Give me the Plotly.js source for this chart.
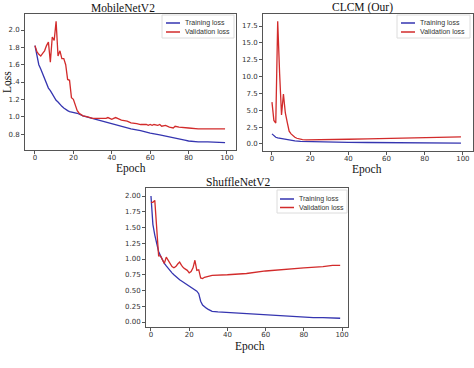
<!DOCTYPE html>
<html><head><meta charset="utf-8">
<script src="https://cdn.plot.ly/plotly-3.0.1.min.js"></script>
<style>html,body{margin:0;padding:0;background:#fff}#chart{width:474px;height:368px}</style>
</head><body><div id="chart"></div>
<script>
// ---- MobileNetV2 ----
const mobTrainEpoch = [0,1,2,3,4,5,6,7,8,9,10,11,12,13,14,15,16,17,18,19,20,22,25,30,35,40,45,50,55,60,65,70,75,78,80,85,90,95,99];
const mobTrainLoss  = [1.82,1.72,1.60,1.55,1.49,1.43,1.38,1.33,1.30,1.26,1.22,1.19,1.17,1.14,1.12,1.10,1.08,1.07,1.06,1.055,1.05,1.04,1.01,0.98,0.95,0.92,0.89,0.86,0.84,0.81,0.79,0.77,0.75,0.73,0.72,0.71,0.71,0.70,0.70];
const mobValEpoch = [0,1,2,3,4,5,6,7,8,9,10,11,12,13,14,15,16,17,18,19,20,21,22,23,24,25,27,30,33,35,37,38,39,40,41,42,43,45,48,50,53,55,58,59,60,61,62,64,65,66,68,70,72,73,75,78,80,85,90,95,99];
const mobValLoss  = [1.82,1.75,1.72,1.70,1.73,1.76,1.82,1.86,1.63,1.92,1.88,2.10,1.70,1.76,1.67,1.67,1.60,1.43,1.42,1.22,1.20,1.12,1.07,1.04,1.02,1.01,1.00,0.98,0.98,0.98,0.98,0.99,0.98,0.97,0.98,0.99,0.98,0.96,0.95,0.93,0.92,0.91,0.91,0.90,0.91,0.90,0.91,0.90,0.91,0.89,0.90,0.88,0.87,0.89,0.88,0.87,0.87,0.86,0.86,0.86,0.86];
// ---- CLCM (Our) ----
const clcmTrainEpoch = [0,1,2,3,4,5,6,7,8,9,10,12,15,20,25,30,40,50,60,70,80,90,99];
const clcmTrainLoss  = [1.5,1.2,1.0,0.9,0.85,0.8,0.75,0.7,0.6,0.55,0.5,0.45,0.4,0.35,0.3,0.28,0.25,0.22,0.2,0.18,0.16,0.15,0.13];
const clcmValEpoch = [0,1,2,3,4,5,6,7,8,9,10,11,12,13,14,15,16,18,20,25,30,40,50,60,70,80,90,99];
const clcmValLoss  = [6.2,3.5,3.1,18.2,10.5,4.3,7.4,4.6,3.2,1.9,1.5,1.2,1.0,0.85,0.75,0.7,0.65,0.62,0.62,0.63,0.65,0.7,0.75,0.8,0.85,0.9,0.95,1.05];
// ---- ShuffleNetV2 ----
const shufTrainEpoch = [0,1,2,3,4,5,6,7,8,9,10,11,12,13,14,15,16,17,18,19,20,21,22,23,24,25,26,27,28,29,30,31,32,35,40,45,50,55,60,65,70,75,80,85,90,95,99];
const shufTrainLoss  = [2.0,1.55,1.38,1.25,1.12,1.05,0.98,0.93,0.89,0.85,0.81,0.78,0.75,0.72,0.70,0.67,0.65,0.63,0.61,0.59,0.57,0.55,0.53,0.51,0.49,0.45,0.33,0.27,0.24,0.22,0.20,0.18,0.17,0.16,0.15,0.14,0.13,0.12,0.11,0.10,0.09,0.09,0.08,0.07,0.07,0.06,0.06];
const shufValEpoch = [0,1,2,3,4,5,6,7,8,9,10,11,12,13,14,15,16,17,18,19,20,21,22,23,24,25,26,27,28,30,32,40,50,60,70,80,90,95,99];
const shufValLoss  = [1.90,1.90,1.93,1.45,1.05,1.05,0.98,0.93,1.03,0.98,0.92,0.88,0.86,0.88,0.92,0.95,0.90,0.86,0.84,0.82,0.78,0.80,0.86,0.98,0.82,0.83,0.70,0.69,0.71,0.73,0.74,0.75,0.77,0.81,0.84,0.86,0.88,0.90,0.90];

const legendNames = ['Training loss','Validation loss'];
const blue = '#3535b0', red = '#d22b2b';
const W = 474, H = 368;
const fx = p => p / W, fy = p => 1 - p / H;

function tr(x, y, xa, ya, name, color) {
  return {x: x, y: y, xaxis: xa, yaxis: ya, name: name, type: 'scatter', mode: 'lines',
    line: {color: color, width: 1.3}, showlegend: false};
}
const data = [
  tr(mobTrainEpoch, mobTrainLoss, 'x', 'y', legendNames[0], blue),
  tr(mobValEpoch, mobValLoss, 'x', 'y', legendNames[1], red),
  tr(clcmTrainEpoch, clcmTrainLoss, 'x2', 'y2', legendNames[0], blue),
  tr(clcmValEpoch, clcmValLoss, 'x2', 'y2', legendNames[1], red),
  tr(shufTrainEpoch, shufTrainLoss, 'x3', 'y3', legendNames[0], blue),
  tr(shufValEpoch, shufValLoss, 'x3', 'y3', legendNames[1], red),
];

const tickFont = {family: 'DejaVu Sans', size: 7, color: '#333'};
function ax(domain, range, dtick, fmt, anchor, isX) {
  const a = {domain: domain, range: range, dtick: dtick, tick0: 0, tickformat: fmt, anchor: anchor,
    showgrid: false, zeroline: false, showline: true, mirror: true, linecolor: '#555', linewidth: 1,
    ticks: 'outside', ticklen: 3, tickcolor: '#555', tickfont: tickFont};
  if (isX) a.ticklabelstandoff = -2;
  return a;
}
const serif = {family: 'Liberation Serif', size: 11.5, color: '#111'};
function ann(text, x, y, extra) {
  return Object.assign({text: text, x: fx(x), y: fy(y), xref: 'paper', yref: 'paper', showarrow: false,
    font: serif, xanchor: 'center', yanchor: 'middle'}, extra || {});
}

// manual compact legends (box left/top/right/bottom, line start x, item y's)
const shapes = [], anns = [];
function legendBox(l, t, r, b, lx, ys) {
  shapes.push({type: 'rect', xref: 'paper', yref: 'paper', x0: fx(l), x1: fx(r), y0: fy(b), y1: fy(t),
    line: {color: '#dcdcdc', width: 1}, fillcolor: 'rgba(255,255,255,0.9)'});
  [blue, red].forEach((c, i) => {
    shapes.push({type: 'line', xref: 'paper', yref: 'paper', x0: fx(lx), x1: fx(lx + 14), y0: fy(ys[i]), y1: fy(ys[i]),
      line: {color: c, width: 1.5}});
    anns.push({text: legendNames[i], x: fx(lx + 17), y: fy(ys[i]), xref: 'paper', yref: 'paper', showarrow: false,
      xanchor: 'left', yanchor: 'middle', font: {family: 'Liberation Sans', size: 7, color: '#333'}});
  });
}
legendBox(162, 15, 234, 38, 166, [23, 32]);
legendBox(397, 15, 470, 38, 401, [23, 32]);
legendBox(277, 190, 347, 213, 280, [199, 207.5]);

const layout = {
  width: W, height: H, margin: {l: 0, r: 0, t: 0, b: 0}, paper_bgcolor: '#fff', plot_bgcolor: '#fff',
  showlegend: false,
  xaxis: ax([fx(25), fx(236)], [-5.2, 104.7], 20, 'd', 'y', true),
  yaxis: ax([fy(150), fy(14)], [0.616, 2.185], 0.2, '.1f', 'x'),
  xaxis2: ax([fx(263), fx(473)], [-4.7, 105.3], 20, 'd', 'y2', true),
  yaxis2: ax([fy(151), fy(14)], [-1.04, 19.28], 2.5, '.1f', 'x2'),
  xaxis3: ax([fx(146), fx(348)], [-2.6, 103.1], 20, 'd', 'y3', true),
  yaxis3: ax([fy(327), fy(188)], [-0.079, 2.127], 0.25, '.2f', 'x3'),
  shapes: shapes,
  annotations: [
    ann('MobileNetV2', 123, 8),
    ann('Loss', 7, 82, {textangle: -90}),
    ann('Epoch', 131, 160, {yanchor: 'top'}),
    ann('CLCM (Our)', 362, 8),
    ann('Epoch', 367, 161, {yanchor: 'top'}),
    ann('ShuffleNetV2', 238, 182),
    ann('Epoch', 250, 338, {yanchor: 'top'}),
  ].concat(anns),
};
Plotly.newPlot('chart', data, layout, {displayModeBar: false, staticPlot: true});
</script>
</body></html>
